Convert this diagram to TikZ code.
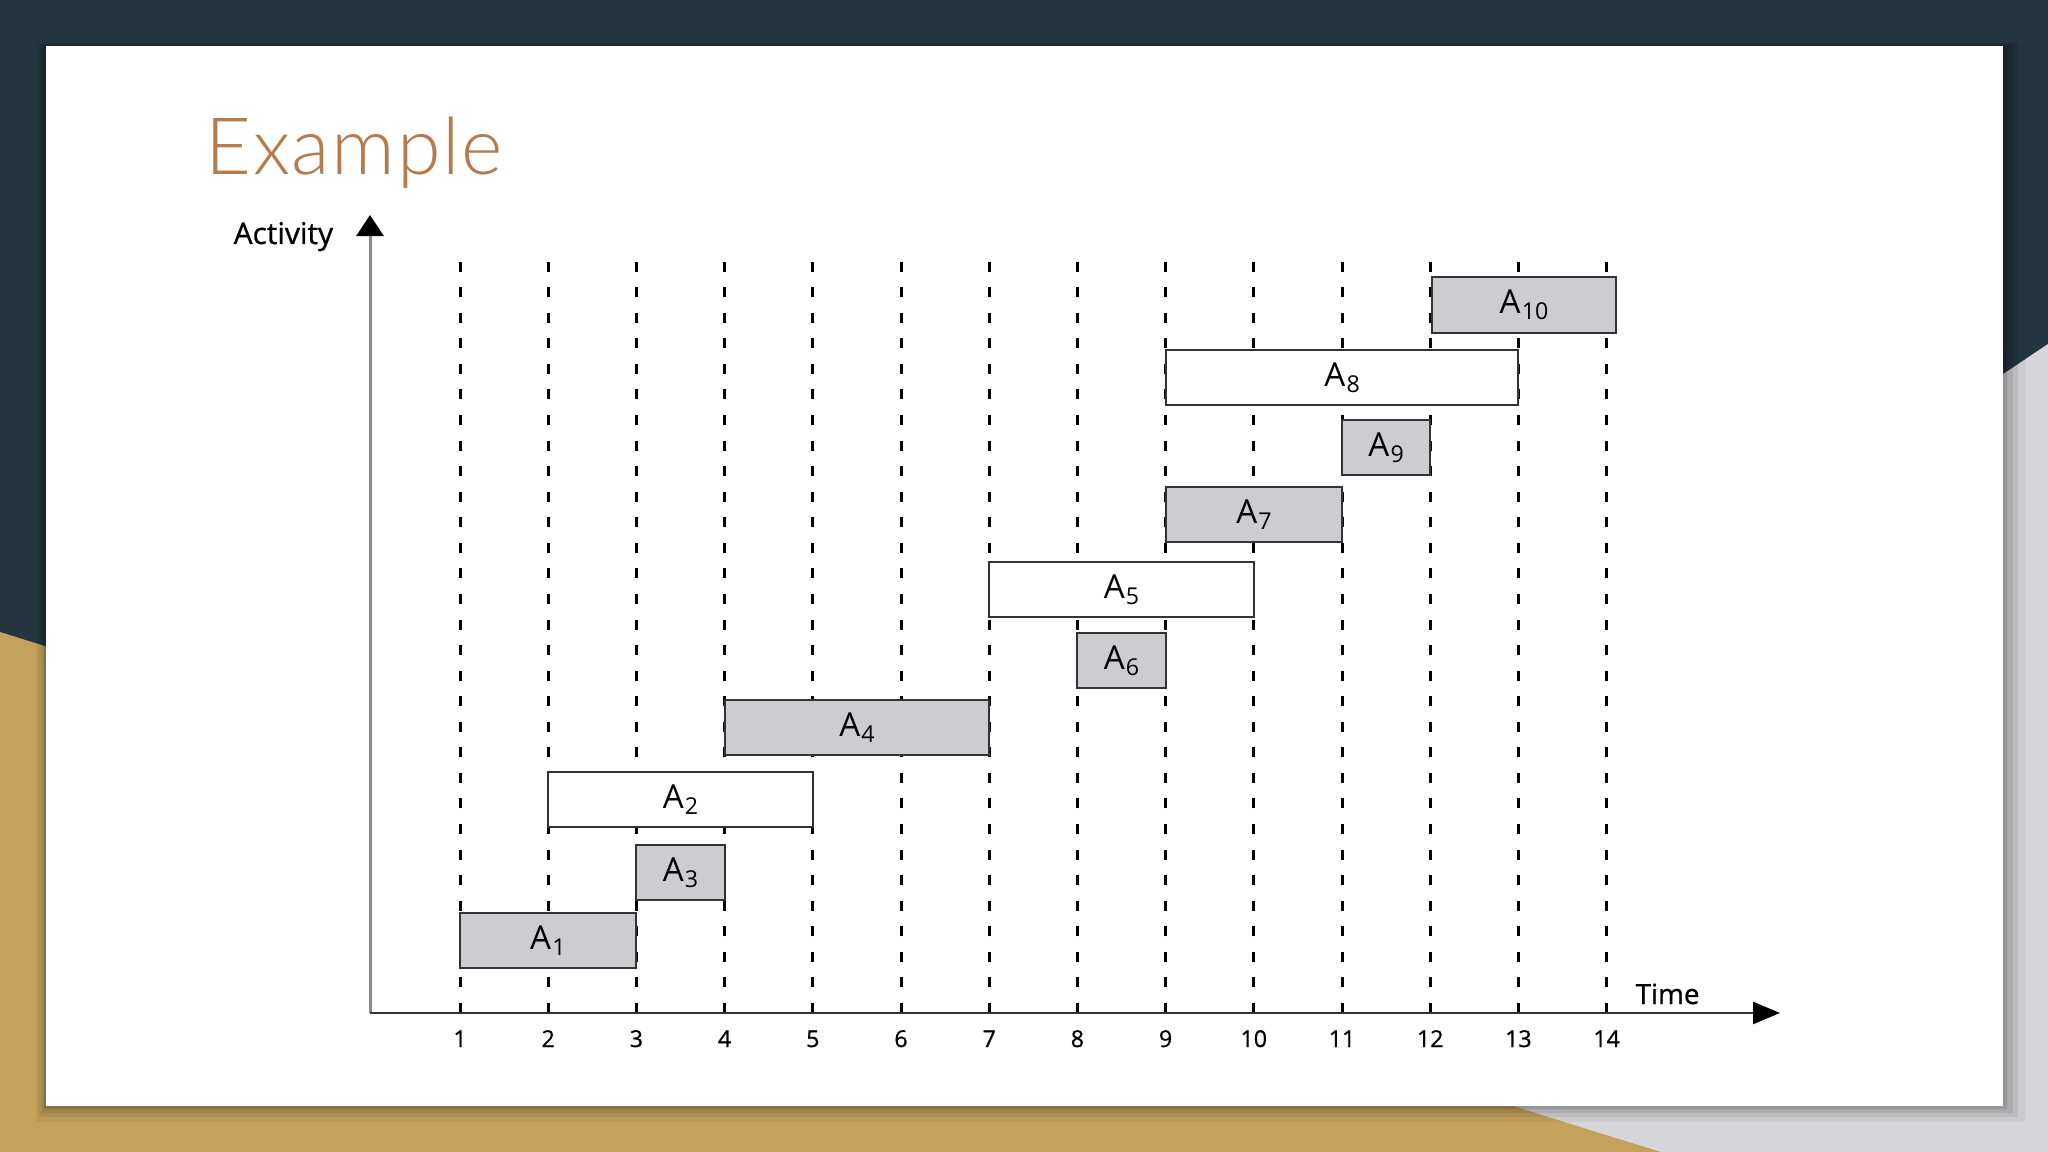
\documentclass[tikz,border=0pt]{standalone}
\usepackage{fontspec}
\setmainfont{Open Sans}
\newfontfamily\titlefont{Lato Light}[LetterSpace=2]
\newfontfamily\axisfont{Open Sans}[FakeBold=0.8]
\usetikzlibrary{arrows.meta}
\definecolor{slidedark}{HTML}{233640}
\definecolor{slidegold}{HTML}{C4A25C}
\definecolor{slidegray}{HTML}{D6D5D9}
\definecolor{titlebrown}{HTML}{B67B4D}
\definecolor{boxgray}{HTML}{CDCCD0}
\definecolor{edgedark}{HTML}{333333}
\definecolor{axisgray}{HTML}{8A8A8A}
\tikzset{
  actgray/.style={shape=rectangle,draw=edgedark,line width=0.02cm,fill=boxgray,minimum height=0.55cm,inner sep=0pt,font=\fontsize{9.4}{10}\selectfont},
  actwhite/.style={actgray,fill=white},
  timeline/.style={dash pattern=on 0.1cm off 0.1555cm,line width=0.03cm,black},
  ticklabel/.style={font=\axisfont\fontsize{6.6}{7}\selectfont,anchor=base,inner sep=0pt},
  axislabel/.style={font=\axisfont\fontsize{7.9}{9}\selectfont,anchor=base west,inner sep=0pt}
}
\newcommand{\actname}[1]{A\kern0.04em\raisebox{-0.35ex}{\fontsize{6.6}{7}\selectfont #1}}

\begin{document}
\begin{tikzpicture}[x=0.01cm,y=-0.01cm]
\useasboundingbox (0,0) rectangle (2048,1152);

% slide background
\fill[slidedark] (0,0) rectangle (2048,1152);
\fill[slidegray] (2048,344) -- (1100,979) -- (1660,1152) -- (2048,1152) -- cycle;
\fill[slidegold] (0,632) -- (1660,1152) -- (0,1152) -- cycle;

% card and its shadow
\foreach \s/\o in {16/0.05,11/0.07,7/0.09,3/0.12}
  \fill[black,opacity=\o] ({46-\s*0.6},{46-\s*0.3}) rectangle ({2003+\s*1.4},{1106+\s});
\fill[white] (46,46) rectangle (2003,1106);

% title
\node (title) [anchor=base west,inner sep=0pt,text=titlebrown,font=\titlefont\fontsize{22.5}{26}\selectfont] at (205,175) {Example};

% time grid
\foreach \t in {1,...,14} {
  \pgfmathsetmacro\tx{371.8+88.2*\t}
  \coordinate (t\t) at (\tx,1013);
  \coordinate (g\t) at (\tx,262);
  \draw[timeline] (t\t) -- (g\t);
  \node (n\t) [ticklabel] at (\tx,1047) {\t};
}

% axes
\coordinate (origin) at (370,1013);
\coordinate (ytip) at (370,215);
\coordinate (xtip) at (1780,1013);
\draw[line width=0.03cm,axisgray,-{Triangle[length=0.21cm,width=0.27cm,color=black]}] (origin) -- (ytip);
\draw[line width=0.025cm,edgedark,-{Triangle[length=0.27cm,width=0.22cm,color=black]}] (origin) -- (xtip);

\node (activity) [axislabel,font=\axisfont\fontsize{8.5}{9}\selectfont] at (233,244) {Activity};
\node (time) [axislabel] at (1635,1004) {Time};

% activities
\node (a1) [actgray,minimum width=1.76cm] at (548,940.5) {\actname{1}};
\node (a3) [actgray,minimum width=0.89cm] at (680.5,872.5) {\actname{3}};
\node (a2) [actwhite,minimum width=2.65cm] at (680.5,799.5) {\actname{2}};
\node (a4) [actgray,minimum width=2.64cm] at (857,727.5) {\actname{4}};
\node (a6) [actgray,minimum width=0.89cm] at (1121.5,660.5) {\actname{6}};
\node (a5) [actwhite,minimum width=2.65cm] at (1121.5,589.5) {\actname{5}};
\node (a7) [actgray,minimum width=1.76cm] at (1254,514.5) {\actname{7}};
\node (a9) [actgray,minimum width=0.88cm] at (1386,447.5) {\actname{9}};
\node (a8) [actwhite,minimum width=3.52cm] at (1342,377.5) {\actname{8}};
\node (a10) [actgray,minimum width=1.84cm] at (1524,305) {\actname{10}};

\end{tikzpicture}
\end{document}
